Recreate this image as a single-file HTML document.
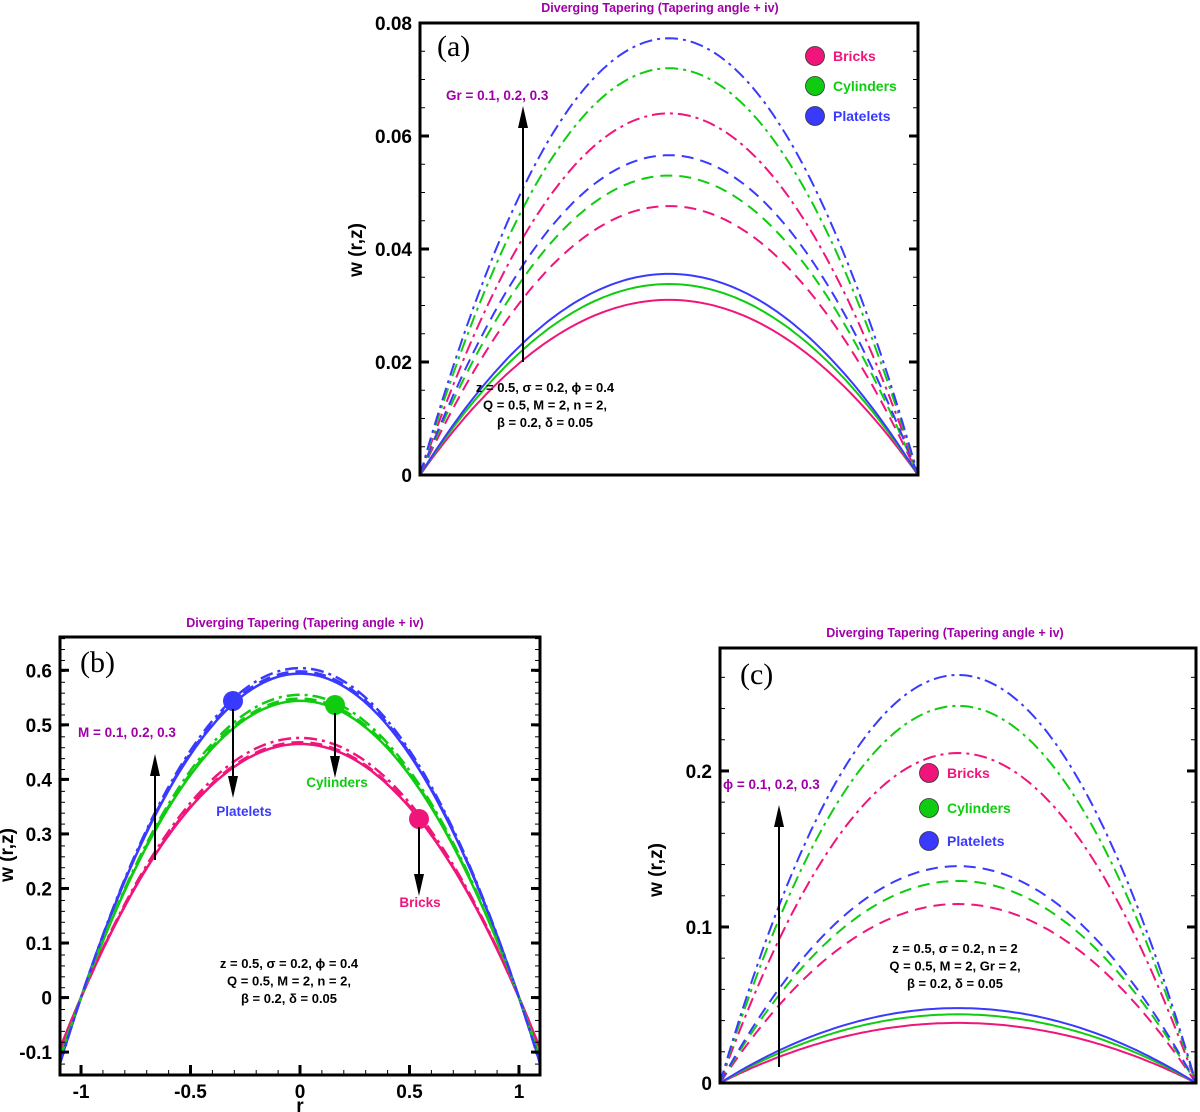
<!DOCTYPE html>
<html><head><meta charset="utf-8"><style>
body{margin:0;background:#fff}
svg{display:block;font-family:"Liberation Sans",sans-serif}
.tk{font-weight:bold;font-size:19px;fill:#000}
.ttl{font-weight:bold;font-size:12.5px;fill:#a000a8}
.ann{font-weight:bold;font-size:13px;fill:#000}
</style></head><body>
<svg id="chart" width="1200" height="1112" viewBox="0 0 1200 1112" xmlns="http://www.w3.org/2000/svg">
<g id="root"></g>
</svg>
<script>
// Panel (a): peak values by material (Bricks, Cylinders, Platelets) for Gr levels
const seriesNames = ['Bricks','Cylinders','Platelets'];
const colors = ['#f0157a','#10cc10','#3a3aff'];
const aPeaksSolid = [0.031, 0.0338, 0.0356];
const aPeaksDash = [0.0476, 0.053, 0.0566];
const aPeaksDashDot = [0.064, 0.072, 0.0773];
const aTicks = [0, 0.02, 0.04, 0.06, 0.08];
// Panel (b): M levels
const bPeaksSolid = [0.465, 0.544, 0.594];
const bPeaksDash = [0.468, 0.548, 0.598];
const bPeaksDashDot = [0.476, 0.555, 0.604];
const bTicksY = [-0.1, 0, 0.1, 0.2, 0.3, 0.4, 0.5, 0.6];
const bTicksX = [-1, -0.5, 0, 0.5, 1];
// Panel (c): phi levels
const cPeaksSolid = [0.0385, 0.044, 0.048];
const cPeaksDash = [0.1147, 0.1295, 0.139];
const cPeaksDashDot = [0.2115, 0.2417, 0.2615];
const cTicks = [0, 0.1, 0.2];

const NS='http://www.w3.org/2000/svg';
const root=document.getElementById('root');
function el(tag,attrs,parent,text){const e=document.createElementNS(NS,tag);for(const k in attrs)e.setAttribute(k,attrs[k]);if(text!==undefined)e.textContent=text;(parent||root).appendChild(e);return e;}

function panel(cfg){
  const g=el('g',{});
  
  
  const X=r=>cfg.x0+(r-cfg.xmin)/(cfg.xmax-cfg.xmin)*(cfg.x1-cfg.x0);
  const Y=v=>cfg.y0-(v-cfg.ymin)/(cfg.ymax-cfg.ymin)*(cfg.y0-cfg.y1);
  const t=el('text',{x:cfg.tx,y:cfg.ty,'text-anchor':'middle',class:'ttl'},g,'Diverging Tapering (Tapering angle + iv)');
  
  
  const styles=[['none','solid'],['12,7','dashed'],['13,5,3,5','dashdot']];
  cfg.sets.forEach((peaks,si)=>{
    peaks.forEach((p,ci)=>{
      let d='';
      for(let i=0;i<=120;i++){const r=cfg.xmin+(cfg.xmax-cfg.xmin)*i/120;const v=p*(1-r*r);d+=(i?'L':'M')+X(r).toFixed(1)+','+Y(v).toFixed(1);}
      const pth=el('path',{d:d,fill:'none',stroke:colors[ci],'stroke-width':cfg.sw||2,'stroke-dasharray':styles[si][0]},g);
      
      
    });
  });
  const bx=el('rect',{x:cfg.x0,y:cfg.y1,width:cfg.x1-cfg.x0,height:cfg.y0-cfg.y1,fill:'none',stroke:'#000','stroke-width':3},g);
  
  
  cfg.yTicks.forEach(v=>{
    el('line',{x1:cfg.x0,x2:cfg.x0+9,y1:Y(v),y2:Y(v),stroke:'#000','stroke-width':3},g);
    el('line',{x1:cfg.x1,x2:cfg.x1-9,y1:Y(v),y2:Y(v),stroke:'#000','stroke-width':3},g);
    const lb=el('text',{x:cfg.x0-8,y:Y(v)+7,'text-anchor':'end',class:'tk'},g,cfg.fmt(v));
    
    
  });
  for(let v=cfg.ymin;v<=cfg.ymax+1e-9;v+=cfg.minor){
    el('line',{x1:cfg.x0,x2:cfg.x0+5,y1:Y(v),y2:Y(v),stroke:'#000','stroke-width':1},g);
    el('line',{x1:cfg.x1,x2:cfg.x1-5,y1:Y(v),y2:Y(v),stroke:'#000','stroke-width':1},g);
  }
  if(cfg.xTicks){
    cfg.xTicks.forEach(v=>{
      el('line',{x1:X(v),x2:X(v),y1:cfg.y0,y2:cfg.y0-10,stroke:'#000','stroke-width':3},g);
      const lb=el('text',{x:X(v),y:cfg.y0+23,'text-anchor':'middle',class:'tk'},g,String(v));
      
      
    });
    for(let v=-1.1;v<=1.1;v+=0.1){el('line',{x1:X(v),x2:X(v),y1:cfg.y0,y2:cfg.y0-5,stroke:'#000','stroke-width':1},g);}
    const xl=el('text',{x:X(0),y:cfg.y0+37,'text-anchor':'middle',class:'tk'},g,'r');
    
    
  }
  const yl=el('text',{x:0,y:0,'text-anchor':'middle',class:'tk',transform:`translate(${cfg.ylx},${cfg.yly}) rotate(-90)`},g,'w (r,z)');
  
  
  const pl=el('text',{x:cfg.lx,y:cfg.ly,'font-family':'Liberation Serif,serif','font-size':30},g,cfg.letter);
  
  
  cfg.ann.forEach((s,i)=>{const a=el('text',{x:cfg.ax,y:cfg.ay+i*17.5,'text-anchor':'middle',class:'ann'},g,s);
    
    });
  return g;
}
function legend(g,x,ys){
  ys.forEach((y,i)=>{
    const c=el('circle',{cx:x,cy:y,r:9.5,fill:colors[i],stroke:'#333','stroke-width':0.8},g);
    
    
    const t=el('text',{x:x+18,y:y+5,'font-weight':'bold','font-size':14,fill:colors[i]},g,seriesNames[i]);
    
    
  });
}
function arrow(g,x,y1,y2,name){
  const dir=y2<y1?1:-1; // 1 = pointing up
  const a=el('g',{},g);
  
  
  el('line',{x1:x,y1:y1,x2:x,y2:y2+dir*18,stroke:'#000','stroke-width':2},a);
  el('polygon',{points:`${x},${y2} ${x-5},${y2+dir*22} ${x+5},${y2+dir*22}`,fill:'#000'},a);
}
function label(g,x,y,txt,col,name,anchor){const t=el('text',{x:x,y:y,'font-weight':'bold','font-size':13.5,fill:col,'text-anchor':anchor||'start'},g,txt);
  
  }

const gA=panel({name:'panel-a',x0:420,x1:918,y0:475,y1:23,xmin:-1,xmax:1,ymin:0,ymax:0.08,yTicks:aTicks,minor:0.005,
  fmt:v=>v===0?'0':v.toFixed(2),sets:[aPeaksSolid,aPeaksDash,aPeaksDashDot],tx:660,ty:12,ylx:362,yly:250,lx:437,ly:56,letter:'(a)',
  ax:545,ay:392,ann:['z = 0.5, σ = 0.2, ϕ = 0.4','Q = 0.5, M = 2, n = 2,','β = 0.2, δ = 0.05']});
legend(gA,815,[56,86,116]);
arrow(gA,523,362,106,'gr-increase-arrow');
label(gA,446,100,'Gr = 0.1, 0.2, 0.3','#a000a8','gr-label');

const gB=panel({name:'panel-b',x0:60,x1:540,y0:1075,y1:637,xmin:-1.096,xmax:1.096,ymin:-0.142,ymax:0.661,yTicks:bTicksY,minor:0.02,xTicks:bTicksX,sw:2.5,
  fmt:v=>v===0?'0':String(Math.round(v*10)/10),sets:[bPeaksSolid,bPeaksDash,bPeaksDashDot],tx:305,ty:627,ylx:13,yly:855,lx:80,ly:672,letter:'(b)',
  ax:289,ay:968,ann:['z = 0.5, σ = 0.2, ϕ = 0.4','Q = 0.5, M = 2, n = 2,','β = 0.2, δ = 0.05']});
[[233,701,798],[335,705,778],[419,819,896]].forEach((p,i)=>{
  const c=el('circle',{cx:p[0],cy:p[1],r:10,fill:colors[[2,1,0][i]]},gB);
  
  
  arrow(gB,p[0],p[1]+8,p[2],'decrease-arrow-'+['platelets','cylinders','bricks'][i]);
});
label(gB,244,816,'Platelets',colors[2],'platelets-label','middle');
label(gB,337,787,'Cylinders',colors[1],'cylinders-label','middle');
label(gB,420,907,'Bricks',colors[0],'bricks-label','middle');
label(gB,78,737,'M = 0.1, 0.2, 0.3','#a000a8','m-label');
arrow(gB,155,860,754,'m-increase-arrow');

const gC=panel({name:'panel-c',x0:720,x1:1196,y0:1083,y1:648,xmin:-1,xmax:1,ymin:0,ymax:0.2788,yTicks:cTicks,minor:0.02,
  fmt:v=>v===0?'0':v.toFixed(1),sets:[cPeaksSolid,cPeaksDash,cPeaksDashDot],tx:945,ty:637,ylx:662,yly:870,lx:740,ly:684,letter:'(c)',
  ax:955,ay:953,ann:['z = 0.5, σ = 0.2, n = 2','Q = 0.5, M = 2, Gr = 2,','β = 0.2, δ = 0.05']});
legend(gC,929,[773,808,841]);
arrow(gC,779,1067,805,'phi-increase-arrow');
label(gC,723,789,'ϕ = 0.1, 0.2, 0.3','#a000a8','phi-label');
</script>
</body></html>
